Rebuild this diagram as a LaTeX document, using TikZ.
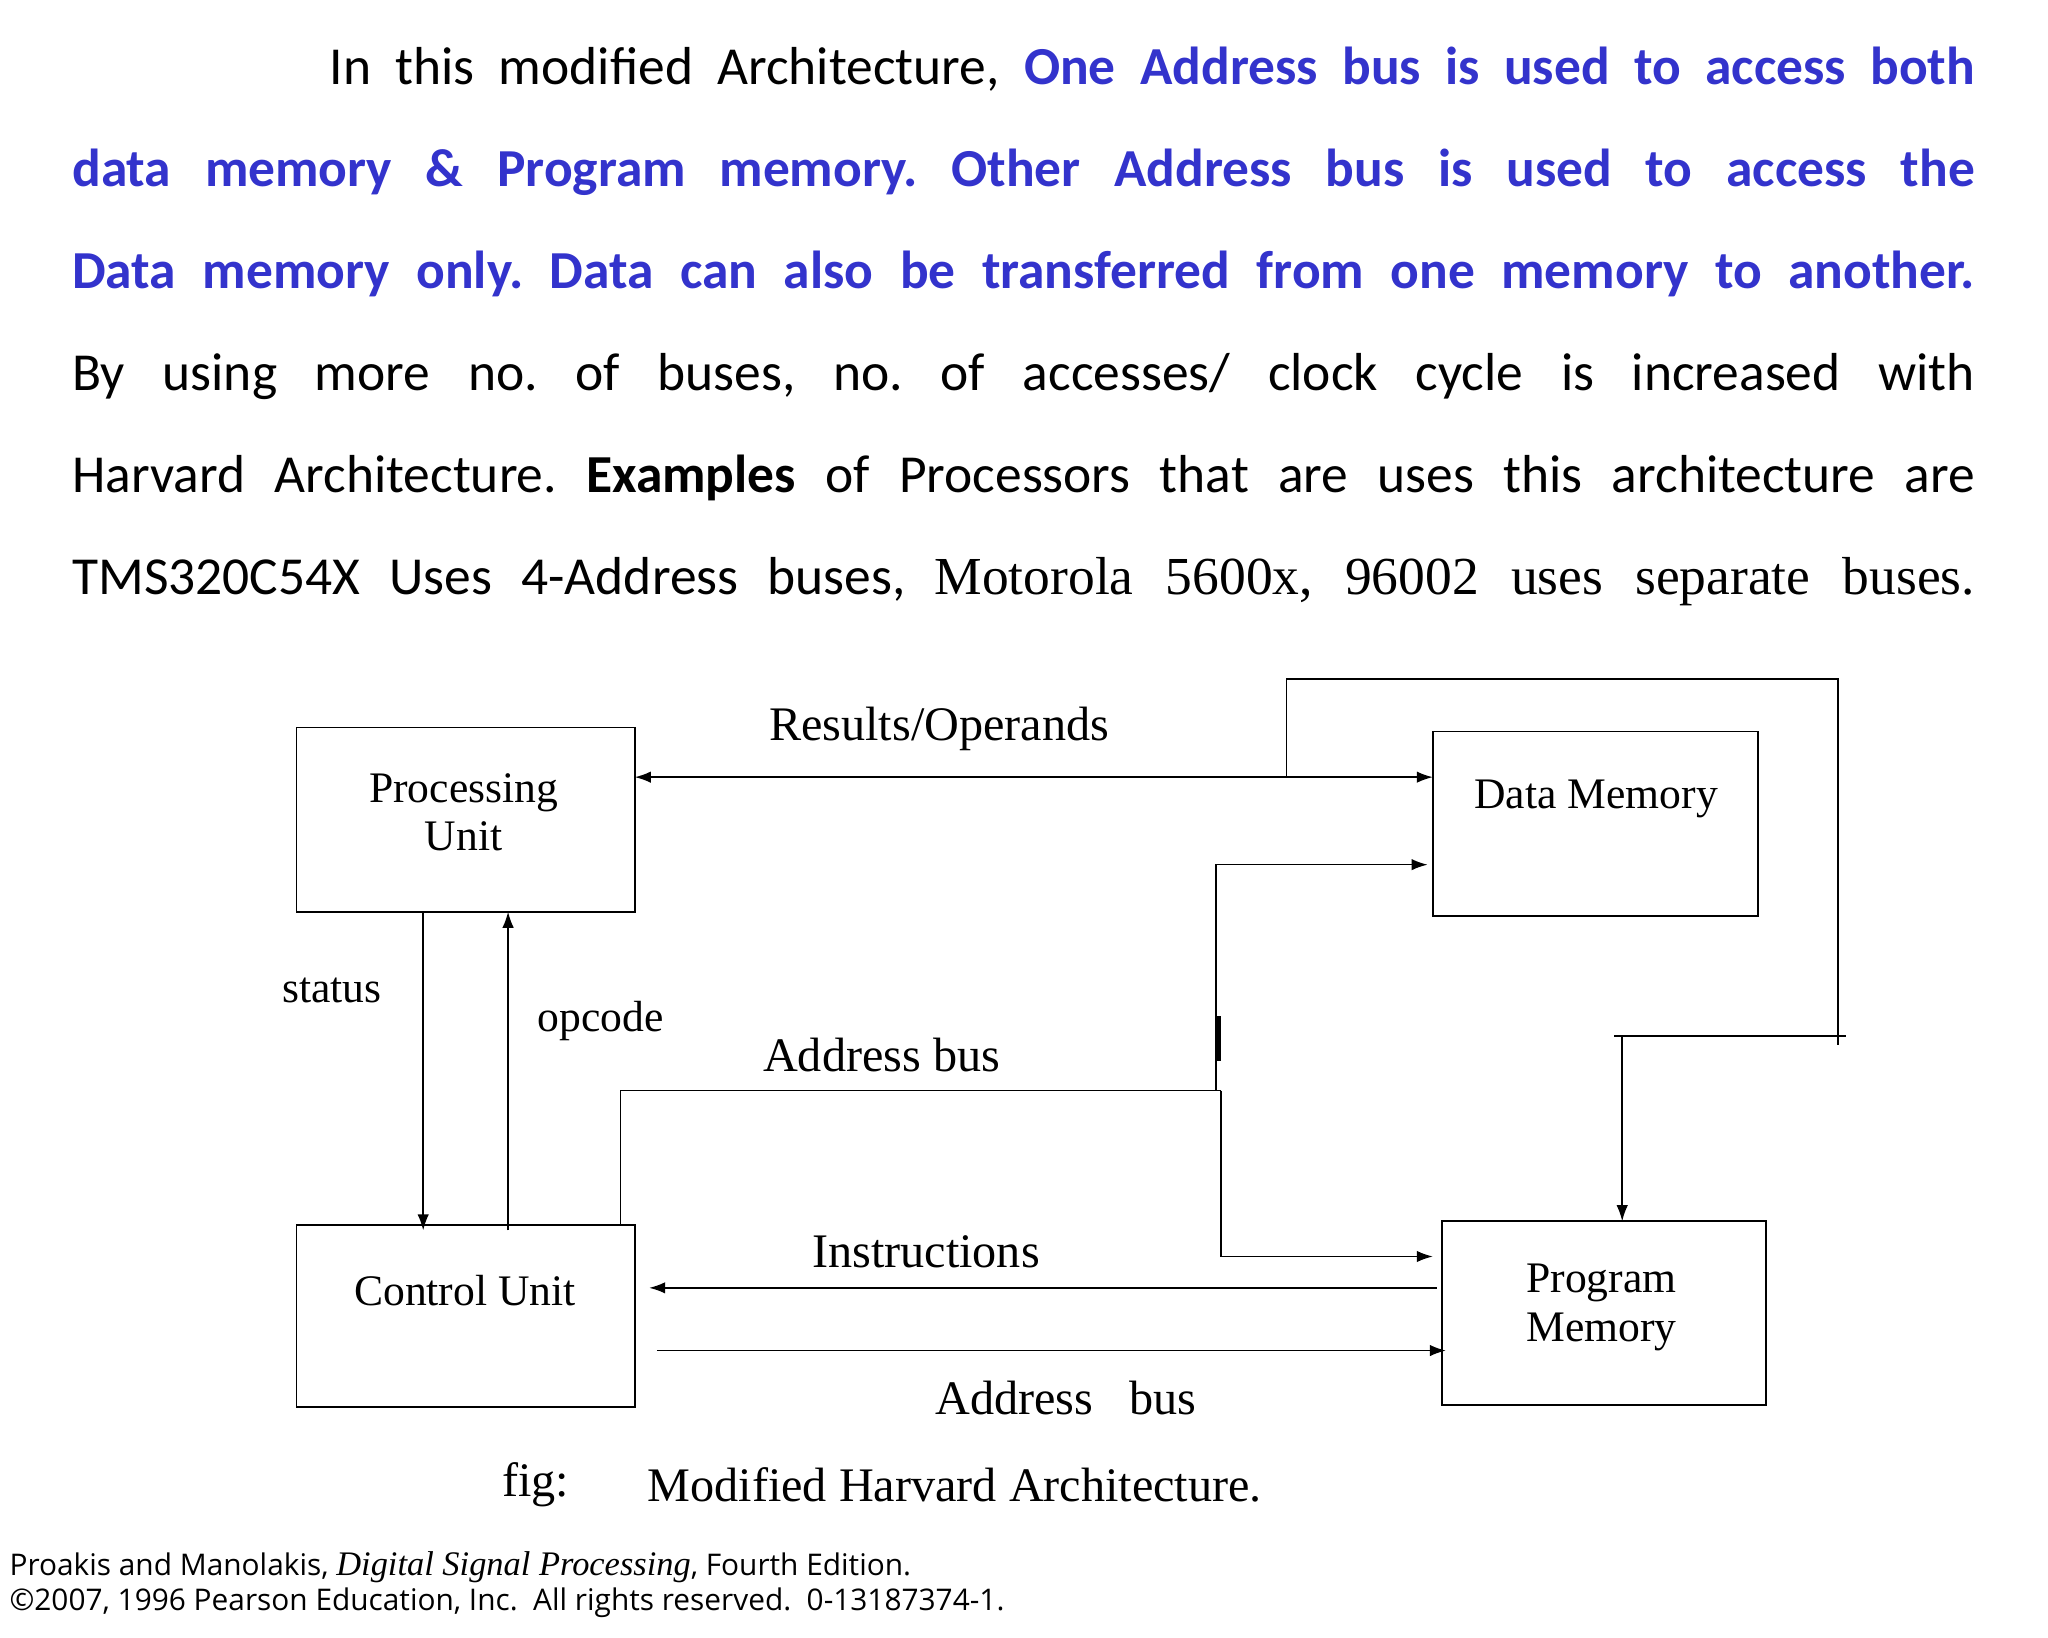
\documentclass[tikz,border=0pt]{standalone}
\usepackage{fontspec}
\setmainfont{Carlito}
\newfontfamily\tms{Liberation Serif}
\newfontfamily\footsans{Open Sans}
\usetikzlibrary{arrows.meta}
\definecolor{hblue}{RGB}{51,51,204}
\begin{document}
\begin{tikzpicture}[x=0.02cm,y=-0.02cm,
  box/.style={draw,line width=0.8pt},
  lbl/.style={font=\tms\fontsize{19}{21}\selectfont,align=center},
  big/.style={font=\tms\fontsize{21}{21}\selectfont},
  con/.style={line width=0.7pt},
  arr/.style={con,-{Latex[length=7pt,width=5pt]}}]
\useasboundingbox (0,0) rectangle (1568,1254);
\node[anchor=north west,inner sep=0pt,text width=29.14cm,align=justify,font=\fontsize{23.3}{44.4}\selectfont] (para) at (55,36) {\frenchspacing\hyphenpenalty=10000\exhyphenpenalty=10000\parfillskip=0pt\hspace*{3.94cm}In this modified Architecture, \textcolor{hblue}{\bfseries One Address bus is used to access both data memory \& Program memory. Other Address bus is used to access the Data memory only. Data can also be transferred from one memory to another.} By using more no. of buses, no. of accesses/ clock cycle is increased with Harvard Architecture. \textbf{Examples} of Processors that are uses this architecture are TMS320C54X Uses 4-Address buses, {\tms Motorola 5600x, 96002 uses separate buses.}\par};
% boxes
\draw[box] (227,557) rectangle (486,698);
\draw[box] (1097,560) rectangle (1346,701);
\draw[box] (227,938) rectangle (486,1077);
\draw[box] (1104,935) rectangle (1352,1076);
\node[lbl] (pu) at (355,622) {Processing\\Unit};
\node[lbl] (dm) at (1222,612) {Data Memory};
\node[lbl] (cu) at (356,988) {Control Unit};
\node[lbl] (pm) at (1226,1001) {Program\\Memory};
% coordinates
\coordinate (a1) at (486,595); \coordinate (a2) at (1097,595);
\coordinate (r1) at (985,595); \coordinate (r2) at (985,520); \coordinate (r3) at (1407,520); \coordinate (r4) at (1407,800);
\coordinate (h1) at (1236,793); \coordinate (h2) at (1413,793);
\coordinate (p1) at (1242,793); \coordinate (p2) at (1242,935);
\coordinate (d1) at (931,835); \coordinate (d2) at (931,662); \coordinate (d3) at (1093,662);
\coordinate (e1) at (935,835); \coordinate (e2) at (935,962); \coordinate (e3) at (1097,962);
\coordinate (b1) at (475,938); \coordinate (b2) at (475,835); \coordinate (b3) at (935,835);
\coordinate (s1) at (324,698); \coordinate (s2) at (324,942);
\coordinate (o1) at (389,942); \coordinate (o2) at (389,698);
\coordinate (i1) at (1100,986); \coordinate (i2) at (497,986);
\coordinate (c1) at (503,1034); \coordinate (c2) at (1107,1034);
% connectors
\draw[con,{Latex[length=7pt,width=5pt]}-{Latex[length=7pt,width=5pt]}] (a1) -- (a2);
\draw[con] (r1) -- (r2) -- (r3) -- (r4);
\draw[con] (h1) -- (h2);
\draw[arr] (p1) -- (p2);
\draw[arr] (d1) -- (d2) -- (d3);
\draw[line width=2.5pt] (933,778) -- (933,812);
\draw[arr] (e1) -- (e2) -- (e3);
\draw[con] (b1) -- (b2) -- (b3);
\draw[arr] (s1) -- (s2);
\draw[arr] (o1) -- (o2);
\draw[arr] (i1) -- (i2);
\draw[arr] (c1) -- (c2);
% labels
\node[lbl,big] (lro) at (719,558) {Results/Operands};
\node[lbl] (lst) at (254,758) {status};
\node[lbl] (lop) at (460,782) {opcode};
\node[lbl,big] (lab1) at (675,808) {Address bus};
\node[lbl,big] (lin) at (709,958) {Instructions};
\node[lbl,big] (lab2) at (816,1070) {Address\ \ \ bus};
\node[lbl,big] (fig) at (410,1137) {fig:};
\node[lbl,big] (cap) at (731,1137) {Modified Harvard Architecture.};
\node[anchor=west,inner sep=0pt,font=\footsans\fontsize{13}{15}\selectfont] (f1) at (7,1200) {Proakis and Manolakis, {\tms\itshape\fontsize{15}{15}\selectfont Digital Signal Processing}, Fourth Edition.};
\node[anchor=west,inner sep=0pt,font=\footsans\fontsize{13}{15}\selectfont] (f2) at (7,1227) {©2007, 1996 Pearson Education, Inc.\ \ All rights reserved.\ \ 0-13187374-1.};
\end{tikzpicture}
\end{document}
